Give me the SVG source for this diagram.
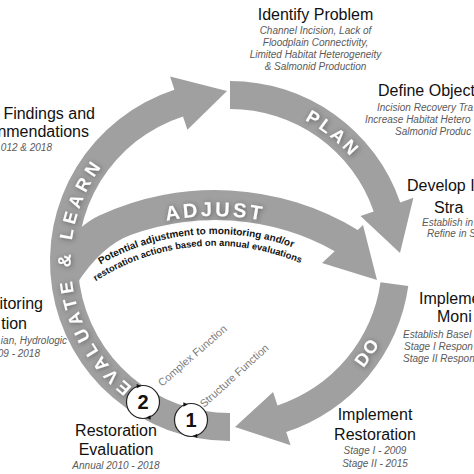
<svg xmlns="http://www.w3.org/2000/svg" width="474" height="474" viewBox="0 0 474 474">
<style>
.band{fill:#a0a0a0}
.bt{font-family:"Liberation Sans",Arial,sans-serif;font-weight:bold;fill:#fff;filter:url(#sh)}
.ti{font-family:"Liberation Sans",Arial,sans-serif;font-size:16px;fill:#111}
.sub{font-family:"Liberation Sans",Arial,sans-serif;font-size:10px;font-style:italic;fill:#5a5a5a}
.gr{font-family:"Liberation Sans",Arial,sans-serif;font-size:10.8px;fill:#7a7a7a}
.adj{font-family:"Liberation Sans",Arial,sans-serif;font-weight:bold;fill:#111}
.num{font-family:"Liberation Sans",Arial,sans-serif;font-weight:bold;font-size:20px;fill:#111;text-anchor:middle}
.c{text-anchor:middle}
.e{text-anchor:end}
.ring{fill:#fff;stroke:#222;stroke-width:1.2}
.mk{fill:#111}
</style>
<defs>
<filter id="sh" x="-30%" y="-30%" width="160%" height="160%">
<feDropShadow dx="1" dy="1" stdDeviation="2.5" flood-color="#333" flood-opacity="0.6"/>
</filter>
<path id="learnTP" d="M 230,420.5 A 159.5 159.5 0 0 1 189.8,106.7"/>
<path id="planTP" d="M 254.9,103.5 A 159.5 159.5 0 0 1 378.9,203.8"/>
<path id="doTP" d="M 331.5,398.6 A 171 171 0 0 0 396.2,301.2"/>
<path id="adjTP" d="M 90.5,249.4 A 249 249 0 0 1 339.5,249.4"/>
<path id="p1TP" d="M 82.5,275.8 A 231 231 0 0 1 312.6,255.6"/>
<path id="p2TP" d="M 89.4,285.6 A 218 218 0 0 1 307.6,266.5"/>
</defs>
<rect width="474" height="474" fill="#fff"/>

<g id="connectors">
<path id="adjust-arrow" class="band" d="M 62,250 Q 78.8,225.1 98.8,215.8 A 275 275 0 0 1 357.7,229.9 L 363,225 L 377,280 L 322,263 L 334.7,251.2 A 245 245 0 0 0 131.2,234.8 Q 101.2,245.7 76,285 Z"/>
<path id="learn-arrow" class="band" d="M 230,441 A 180 180 0 0 1 174.4,89.8 L 170.1,76.5 L 227,91 L 187.4,129.7 L 183.0,116.4 A 152 152 0 0 0 230,413 Z"/>
<path id="plan-arrow" class="band" d="M 230,81 A 180 180 0 0 1 400.2,202.4 L 413.4,197.8 L 400,253 L 360.5,216.1 L 373.7,211.5 A 152 152 0 0 0 230,109 Z"/>
<path id="do-arrow" class="band" d="M 408.3,286.1 A 180 180 0 0 1 286.2,432.0 L 290.6,445.3 L 235,427 L 273.1,392.1 L 277.5,405.4 A 152 152 0 0 0 380.5,282.2 Z"/>
<text class="bt" font-size="18" letter-spacing="4.4"><textPath href="#learnTP" startOffset="50%" text-anchor="middle">EVALUATE &amp; LEARN</textPath></text>
<text class="bt" font-size="18" letter-spacing="3.1"><textPath href="#planTP" startOffset="50%" text-anchor="middle">PLAN</textPath></text>
<text class="bt" font-size="18" letter-spacing="2"><textPath href="#doTP" startOffset="50%" text-anchor="middle">DO</textPath></text>
<text class="bt" font-size="20" letter-spacing="3"><textPath href="#adjTP" startOffset="50%" text-anchor="middle">ADJUST</textPath></text>
<text class="adj" font-size="10"><textPath href="#p1TP" startOffset="50%" text-anchor="middle">Potential adjustment to monitoring and/or</textPath></text>
<text class="adj" font-size="9.3"><textPath href="#p2TP" startOffset="50%" text-anchor="middle">restoration actions based on annual evaluations</textPath></text>
<text class="gr" x="162" y="387" transform="rotate(-41 162 387)">Complex Function</text>
<text class="gr" x="204" y="408" transform="rotate(-42 204 408)">Structure Function</text>
</g>

<g id="step-2">
<circle class="ring" cx="143" cy="402" r="16.5"/>
<polygon class="mk" points="136.7,383.9 141.2,386.1 136.7,388.3"/>
<polygon class="mk" points="150.6,415.3 146.1,417.5 150.6,419.7"/>
<text class="num" x="143" y="409">2</text>
</g>
<g id="step-1">
<circle class="ring" cx="191" cy="420" r="16.5"/>
<polygon class="mk" points="183.4,402.3 187.9,404.5 183.4,406.7"/>
<polygon class="mk" points="197.3,433.7 192.8,435.9 197.3,438.1"/>
<text class="num" x="191" y="427">1</text>
</g>

<g id="identify-problem">
<text class="ti c" x="315.5" y="20">Identify Problem</text>
<text class="sub c" x="315.5" y="34">Channel Incision, Lack of</text>
<text class="sub c" x="315.5" y="46">Floodplain Connectivity,</text>
<text class="sub c" x="315.5" y="58">Limited Habitat Heterogeneity</text>
<text class="sub c" x="315.5" y="70">&amp; Salmonid Production</text>
</g>
<g id="define-objectives">
<text class="ti" x="378" y="96">Define Object</text>
<text class="sub" x="377" y="111">Incision Recovery Tra</text>
<text class="sub" x="365" y="123">Increase Habitat Hetero</text>
<text class="sub" x="395" y="135">Salmonid Produc</text>
</g>
<g id="develop-strategy">
<text class="ti" x="407" y="191">Develop I</text>
<text class="ti" x="434" y="213">Stra</text>
<text class="sub" x="422" y="226">Establish in</text>
<text class="sub" x="427" y="237">Refine in S</text>
</g>
<g id="implement-monitoring">
<text class="ti" x="419" y="304">Impleme</text>
<text class="ti" x="437" y="322">Moni</text>
<text class="sub" x="403" y="338">Establish Basel</text>
<text class="sub" x="404" y="350">Stage I Respon</text>
<text class="sub" x="403" y="362">Stage II Respon</text>
</g>
<g id="implement-restoration">
<text class="ti c" x="375" y="420">Implement</text>
<text class="ti c" x="375" y="440">Restoration</text>
<text class="sub c" x="375" y="454">Stage I - 2009</text>
<text class="sub c" x="375" y="467">Stage II - 2015</text>
</g>
<g id="restoration-evaluation">
<text class="ti c" x="116" y="436">Restoration</text>
<text class="ti c" x="116" y="455">Evaluation</text>
<text class="sub c" x="116" y="469" font-style="normal" font-size="9.5">Annual 2010 - 2018</text>
</g>
<g id="monitoring-evaluation">
<text class="ti e" x="43" y="309">itoring</text>
<text class="ti e" x="27" y="329">tion</text>
<text class="sub e" x="67" y="344">ian, Hydrologic</text>
<text class="sub e" x="40" y="357">09 - 2018</text>
</g>
<g id="findings-recommendations">
<text class="ti e" x="95" y="119">Findings and</text>
<text class="ti e" x="89" y="137">nmendations</text>
<text class="sub e" x="52" y="151">012 &amp; 2018</text>
</g>
</svg>
